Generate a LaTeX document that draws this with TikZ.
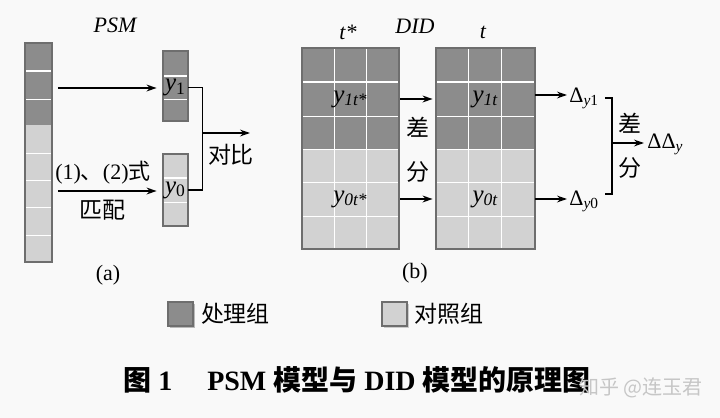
\documentclass[tikz,border=0pt]{standalone}
\usepackage{fontspec}
\setmainfont{Liberation Serif}
\newfontfamily\cjk{Noto Sans CJK SC}
\usetikzlibrary{arrows.meta,positioning}
\definecolor{treat}{HTML}{8C8C8C}
\definecolor{ctrl}{HTML}{D2D2D2}
\definecolor{edge}{HTML}{6E6E6E}
\definecolor{paper}{HTML}{F9F9F9}
\tikzset {
    frame/.style={
        draw=edge,
        line width=0.6pt,
    },
    thin sep/.style={draw=white, line width=0.5pt},
    thick sep/.style={draw=white, line width=1.3pt},
    label cell/.style={
        inner sep=0pt,
        font=\fontsize{12.5}{14}\selectfont\itshape,
    },
    link/.style={draw=black, line width=0.8pt, -{Stealth[length=5pt,width=3.4pt]}},
    joint/.style={draw=black, line width=0.8pt},
    zh/.style={font=\fontsize{11.5}{13}\selectfont\cjk, inner sep=0pt},
    roman/.style={font=\fontsize{11}{13}\selectfont, inner sep=0pt},
    key/.style={
        frame,
        minimum width=12.5pt,
        minimum height=12pt,
        inner sep=0pt,
    },
}
\begin{document}
\begin{tikzpicture}[x=0.5pt, y=-0.5pt]
    \useasboundingbox (0,0) rectangle (720,418);
    \fill[paper] (0,0) rectangle (720,418);

    % (a) PSM
    \fill[treat] (25,43) rectangle (52,125);
    \fill[ctrl] (25,125) rectangle (52,262);
    \foreach \y in {99,153,180,207,235} \draw[thin sep] (25,\y) -- (52,\y);
    \draw[thick sep] (25,71) -- (52,71);
    \draw[frame] (25,43) rectangle (52,262);

    \fill[treat] (163,51) rectangle (188,121);
    \fill[ctrl] (163,154) rectangle (188,226);
    \foreach \y in {99,202} \draw[thin sep] (163,\y) -- (188,\y);
    \foreach \y in {76,178} \draw[thick sep] (163,\y) -- (188,\y);
    \draw[frame] (163,51) rectangle (188,121);
    \draw[frame] (163,154) rectangle (188,226);

    \node[label cell, minimum width=12.5pt, minimum height=11.5pt] (y1) at (175.5,87.5) {y\textsubscript{\upshape 1}};
    \node[label cell, minimum width=12.5pt, minimum height=12pt] (y0) at (175.5,190) {y\textsubscript{\upshape 0}};

    \coordinate (p1) at (58,88);
    \coordinate (p0) at (58,191);
    \draw[link, shorten >=3pt] (p1) -- (p1 -| y1.west);
    \draw[link, shorten >=3pt] (p0) -- (p0 -| y0.west);
    \draw[joint] (y1.east) -- ++(14,0) |- (y0.east);
    \coordinate (cmp) at (202,133);
    \coordinate (cmpend) at (250,133);
    \draw[link] (cmp) -- (cmpend);

    \node[roman, font=\fontsize{11}{13}\selectfont\itshape] (psm) at (115,25) {PSM};
    \node[roman] (eq) at (103,173) {(1){\cjk 、}(2){\cjk 式}};
    \node[zh] (match) at (103,210) {匹配};
    \node[zh] (compare) at (231,155) {对比};
    \node[roman] (capa) at (108,275) {(a)};

    % (b) DID
    \foreach \l/\r in {302/399,436/535} {
        \fill[treat] (\l,48) rectangle (\r,149);
        \fill[ctrl] (\l,149) rectangle (\r,249);
        \foreach \y in {116,149,182,216} \draw[thin sep] (\l,\y) -- (\r,\y);
        \draw[thick sep] (\l,82) -- (\r,82);
        \draw[thin sep] ({\l+(\r-\l)/3},48) -- ({\l+(\r-\l)/3},249);
        \draw[thin sep] ({\l+2*(\r-\l)/3},48) -- ({\l+2*(\r-\l)/3},249);
        \draw[frame] (\l,48) rectangle (\r,249);
    }

    \node[label cell, minimum width=48.5pt, minimum height=16.5pt] (y1s) at (350.5,99) {y\textsubscript{1t*}};
    \node[label cell, minimum width=48.5pt, minimum height=16.5pt] (y0s) at (350.5,199) {y\textsubscript{0t*}};
    \node[label cell, minimum width=49.5pt, minimum height=16.5pt] (y1t) at (485.5,99) {y\textsubscript{1t}};
    \node[label cell, minimum width=49.5pt, minimum height=16.5pt] (y0t) at (485.5,199) {y\textsubscript{0t}};

    \draw[link, shorten <=0.5pt, shorten >=1.5pt] (y1s) -- (y1t);
    \draw[link, shorten <=0.5pt, shorten >=1.5pt] (y0s) -- (y0t);

    \node[roman, anchor=base west] (d1) at (569,102) {Δ\textsubscript{\textit{y}1}};
    \node[roman, anchor=base west] (d0) at (569,205) {Δ\textsubscript{\textit{y}0}};
    \draw[link, shorten >=1pt] ([yshift=2pt]y1t.east) -- ([yshift=2pt]y1t.east -| d1.west);
    \draw[link, shorten >=1pt] (y0t.east) -- (y0t.east -| d0.west);

    \coordinate (b1) at (605,98);
    \coordinate (b0) at (605,194);
    \draw[joint] (b1) -- ++(7,0) |- (b0);
    \coordinate (bm) at (612,143);
    \node[roman, anchor=base west] (dd) at (647,148) {ΔΔ\textsubscript{\textit{y}}};
    \draw[link, shorten >=1.5pt] (bm) -- (bm -| dd.west);

    \node[zh] (cha) at (418,127) {差};
    \node[zh] (fen) at (418,172) {分};
    \node[zh] (cha2) at (630,123) {差};
    \node[zh] (fen2) at (630,168) {分};

    \node[roman, font=\fontsize{11}{13}\selectfont\itshape] (ts) at (348,32) {t*};
    \node[roman, font=\fontsize{11}{13}\selectfont\itshape] (did) at (415,26) {DID};
    \node[roman, font=\fontsize{11}{13}\selectfont\itshape] (tt) at (483,32) {t};
    \node[roman] (capb) at (415,273) {(b)};

    % legend
    \fill[gray!55] (170,304) rectangle (195,328);
    \node[key, fill=treat] (kt) at (180.5,314) {};
    \node[zh, right=3.5pt of kt] (lt) {处理组};
    \fill[gray!40] (384,304) rectangle (409,328);
    \node[key, fill=ctrl] (kc) at (394.5,314) {};
    \node[zh, right=3.5pt of kc] (lc) {对照组};

    % caption
    \node[font=\fontsize{14}{16}\selectfont] (cap) at (357,380)
        {{\cjk\bfseries 图}~\textbf{1}\quad\ \textbf{PSM}~{\cjk\bfseries 模型与}~\textbf{DID}~{\cjk\bfseries 模型的原理图}};
    \node[font=\fontsize{10}{12}\selectfont\cjk, text=gray!45, anchor=west] (mark) at (572,388) {知乎 @连玉君};
\end{tikzpicture}
\end{document}
